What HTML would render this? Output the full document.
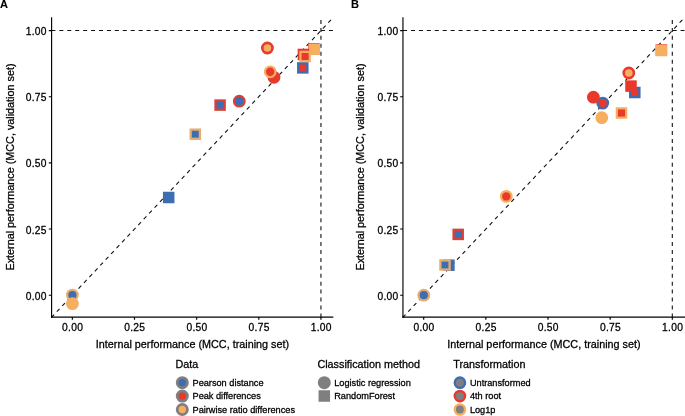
<!DOCTYPE html>
<html><head><meta charset="utf-8"><title>Figure</title>
<style>
html,body{margin:0;padding:0;background:#fff;}
body{width:685px;height:416px;overflow:hidden;}
svg{display:block;}
text{font-family:"Liberation Sans",Arial,Helvetica,sans-serif;fill:#000;stroke:#000;stroke-width:0.28px;}
.tk text{font-size:10.25px;letter-spacing:0.28px;}
.at{font-size:10.8px;}
.lt{font-size:10.8px;}
.ll{font-size:9.2px;}
.pl{font-size:11px;font-weight:bold;stroke-width:0.1px;}
</style></head><body>
<svg width="685" height="416" viewBox="0 0 685 416">
<rect width="685" height="416" fill="#fff"/>
<g stroke="#111" stroke-width="1.1" stroke-dasharray="4.0 3.93" fill="none">
<line x1="51.40" y1="30.55" x2="333.3" y2="30.55"/>
<line x1="320.95" y1="317.40" x2="320.95" y2="17.20"/>
<line x1="51.40" y1="317.50" x2="333.3" y2="17.40"/>
</g>
<circle cx="72.4" cy="295.1" r="5.27" fill="#3D6DB3" stroke="#E6AD6D" stroke-width="2.3"/>
<circle cx="72.4" cy="303.6" r="5.12" fill="#F6AE60" stroke="#F6AE60" stroke-width="2.6"/>
<rect x="164.25" y="193.05" width="8.90" height="8.90" fill="#3D6DB3" stroke="#3D6DB3" stroke-width="2.6"/>
<rect x="190.70" y="129.60" width="9.20" height="9.20" fill="#3D6DB3" stroke="#E6AD6D" stroke-width="2.3"/>
<rect x="215.50" y="100.50" width="9.20" height="9.20" fill="#3D6DB3" stroke="#DB4038" stroke-width="2.3"/>
<circle cx="239.3" cy="101.2" r="5.27" fill="#3D6DB3" stroke="#DB4038" stroke-width="2.3"/>
<circle cx="274.0" cy="77.3" r="5.12" fill="#E8392C" stroke="#E8392C" stroke-width="2.6"/>
<circle cx="270.2" cy="71.8" r="5.32" fill="#E8392C" stroke="#F6AE60" stroke-width="2.2"/>
<circle cx="267.4" cy="48.0" r="5.12" fill="#F6AE60" stroke="#E8392C" stroke-width="2.6"/>
<rect x="298.20" y="63.30" width="9.20" height="9.20" fill="#E8392C" stroke="#3D6DB3" stroke-width="2.3"/>
<rect x="309.45" y="44.35" width="8.90" height="8.90" fill="#F6AE60" stroke="#E8392C" stroke-width="2.6"/>
<rect x="309.90" y="44.85" width="8.90" height="8.90" fill="#F6AE60" stroke="#F6AE60" stroke-width="2.6"/>
<rect x="298.95" y="50.00" width="8.90" height="8.90" fill="#F6AE60" stroke="#E8392C" stroke-width="2.6"/>
<rect x="300.45" y="51.85" width="9.30" height="9.30" fill="#E8392C" stroke="#F6AE60" stroke-width="2.2"/>
<g stroke="#000" stroke-width="1.15" fill="none">
<path d="M51.6 17.20V317.70"/><path d="M51.05 317.15H333.3"/>
<path d="M48.80 295.20H51.6M72.35 317.0V319.80"/>
<path d="M48.80 229.04H51.6M134.50 317.0V319.80"/>
<path d="M48.80 162.88H51.6M196.65 317.0V319.80"/>
<path d="M48.80 96.71H51.6M258.80 317.0V319.80"/>
<path d="M48.80 30.55H51.6M320.95 317.0V319.80"/>
</g>
<g class="tk">
<text x="46.75" y="299.70" text-anchor="end">0.00</text>
<text x="72.65" y="330.6" text-anchor="middle">0.00</text>
<text x="46.75" y="233.54" text-anchor="end">0.25</text>
<text x="134.80" y="330.6" text-anchor="middle">0.25</text>
<text x="46.75" y="167.38" text-anchor="end">0.50</text>
<text x="196.95" y="330.6" text-anchor="middle">0.50</text>
<text x="46.75" y="101.21" text-anchor="end">0.75</text>
<text x="259.10" y="330.6" text-anchor="middle">0.75</text>
<text x="46.75" y="35.05" text-anchor="end">1.00</text>
<text x="321.25" y="330.6" text-anchor="middle">1.00</text>
</g>
<text class="at" x="192.45" y="347.7" text-anchor="middle">Internal performance (MCC, training set)</text>
<text class="at" transform="translate(13.60 167.00) rotate(-90)" text-anchor="middle">External performance (MCC, validation set)</text>
<text class="pl" x="-0.1" y="7.8">A</text>
<g stroke="#111" stroke-width="1.1" stroke-dasharray="4.0 3.93" fill="none">
<line x1="403.05" y1="30.55" x2="685.0" y2="30.55"/>
<line x1="672.30" y1="317.40" x2="672.30" y2="17.20"/>
<line x1="402.75" y1="317.50" x2="685.0" y2="17.03"/>
</g>
<circle cx="423.8" cy="295.2" r="5.27" fill="#3D6DB3" stroke="#E6AD6D" stroke-width="2.3"/>
<rect x="444.45" y="260.75" width="8.90" height="8.90" fill="#3D6DB3" stroke="#3D6DB3" stroke-width="2.6"/>
<rect x="440.40" y="260.40" width="9.20" height="9.20" fill="#3D6DB3" stroke="#E6AD6D" stroke-width="2.3"/>
<rect x="453.60" y="229.80" width="9.20" height="9.20" fill="#3D6DB3" stroke="#DB4038" stroke-width="2.3"/>
<circle cx="506.3" cy="196.4" r="5.32" fill="#E8392C" stroke="#F6AE60" stroke-width="2.2"/>
<circle cx="601.8" cy="117.7" r="5.12" fill="#F6AE60" stroke="#F6AE60" stroke-width="2.6"/>
<rect x="616.85" y="108.35" width="9.30" height="9.30" fill="#E8392C" stroke="#F6AE60" stroke-width="2.2"/>
<circle cx="602.7" cy="103.1" r="5.27" fill="#E8392C" stroke="#3D6DB3" stroke-width="2.3"/>
<circle cx="593.4" cy="97.2" r="5.12" fill="#E8392C" stroke="#E8392C" stroke-width="2.6"/>
<rect x="630.20" y="87.90" width="9.20" height="9.20" fill="#E8392C" stroke="#3D6DB3" stroke-width="2.3"/>
<rect x="626.55" y="81.65" width="8.90" height="8.90" fill="#E8392C" stroke="#E8392C" stroke-width="2.6"/>
<circle cx="628.8" cy="73.0" r="5.12" fill="#F6AE60" stroke="#E8392C" stroke-width="2.6"/>
<rect x="656.95" y="45.55" width="8.90" height="8.90" fill="#F6AE60" stroke="#E8392C" stroke-width="2.6"/>
<rect x="656.95" y="46.05" width="8.90" height="8.90" fill="#F6AE60" stroke="#F6AE60" stroke-width="2.6"/>
<g stroke="#000" stroke-width="1.15" fill="none">
<path d="M402.95 17.20V317.70"/><path d="M402.40 317.15H685.0"/>
<path d="M400.15 295.20H402.95M423.70 317.0V319.80"/>
<path d="M400.15 229.04H402.95M485.85 317.0V319.80"/>
<path d="M400.15 162.88H402.95M548.00 317.0V319.80"/>
<path d="M400.15 96.71H402.95M610.15 317.0V319.80"/>
<path d="M400.15 30.55H402.95M672.30 317.0V319.80"/>
</g>
<g class="tk">
<text x="398.55" y="299.70" text-anchor="end">0.00</text>
<text x="424.00" y="330.6" text-anchor="middle">0.00</text>
<text x="398.55" y="233.54" text-anchor="end">0.25</text>
<text x="486.15" y="330.6" text-anchor="middle">0.25</text>
<text x="398.55" y="167.38" text-anchor="end">0.50</text>
<text x="548.30" y="330.6" text-anchor="middle">0.50</text>
<text x="398.55" y="101.21" text-anchor="end">0.75</text>
<text x="610.45" y="330.6" text-anchor="middle">0.75</text>
<text x="398.55" y="35.05" text-anchor="end">1.00</text>
<text x="672.60" y="330.6" text-anchor="middle">1.00</text>
</g>
<text class="at" x="543.98" y="347.7" text-anchor="middle">Internal performance (MCC, training set)</text>
<text class="at" transform="translate(364.05 167.00) rotate(-90)" text-anchor="middle">External performance (MCC, validation set)</text>
<text class="pl" x="351.1" y="7.8">B</text>
<text class="lt" x="175.5" y="368.4">Data</text>
<circle cx="182.3" cy="382.7" r="5.1" fill="#3D6DB3" stroke="#7F7F7F" stroke-width="2.8"/>
<text class="ll" x="192.5" y="385.8">Pearson distance</text>
<circle cx="182.3" cy="396.09999999999997" r="5.1" fill="#E8392C" stroke="#7F7F7F" stroke-width="2.8"/>
<text class="ll" x="192.5" y="399.2">Peak differences</text>
<circle cx="182.3" cy="409.5" r="5.1" fill="#F6AE60" stroke="#7F7F7F" stroke-width="2.8"/>
<text class="ll" x="192.5" y="412.6">Pairwise ratio differences</text>
<text class="lt" x="317.4" y="368.4">Classification method</text>
<circle cx="324.3" cy="382.7" r="5.2" fill="#7F7F7F" stroke="#7F7F7F" stroke-width="2.6"/>
<rect x="319.85" y="391.55" width="8.90" height="8.90" fill="#7F7F7F" stroke="#7F7F7F" stroke-width="2.6"/>
<text class="ll" x="334.2" y="385.8">Logistic regression</text>
<text class="ll" x="334.2" y="399.2">RandomForest</text>
<text class="lt" x="453.2" y="368.4">Transformation</text>
<circle cx="459.9" cy="382.7" r="5.15" fill="#7F7F7F" stroke="#3D6DB3" stroke-width="2.4"/>
<text class="ll" x="469.9" y="385.8">Untransformed</text>
<circle cx="459.9" cy="396.09999999999997" r="5.15" fill="#7F7F7F" stroke="#E8392C" stroke-width="2.4"/>
<text class="ll" x="469.9" y="399.2">4th root</text>
<circle cx="459.9" cy="409.5" r="5.15" fill="#7F7F7F" stroke="#F6AE60" stroke-width="2.4"/>
<text class="ll" x="469.9" y="412.6">Log1p</text>
</svg>
</body></html>
